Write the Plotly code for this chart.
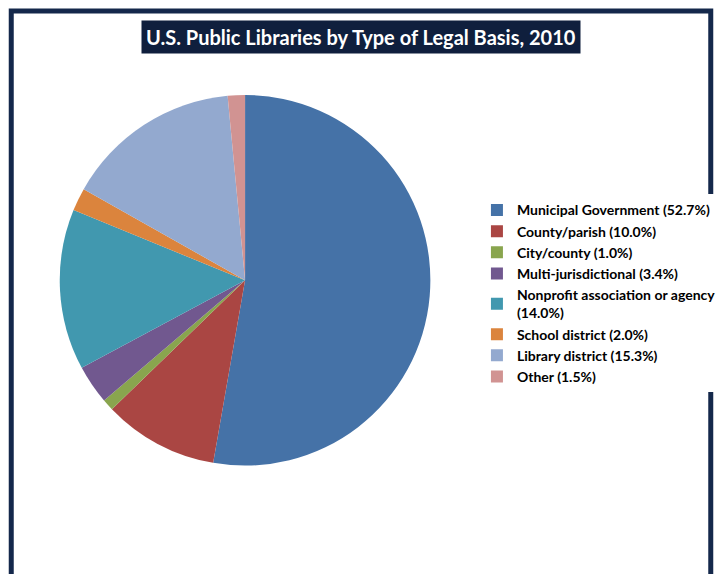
import plotly.graph_objects as go

# Données du graphique
labels = ["<b>Municipal Government (52.7%)</b>", "<b>County/parish (10.0%)</b>", "<b>City/county (1.0%)</b>",
          "<b>Multi-jurisdictional (3.4%)</b>", "<b>Nonprofit association or agency<br>(14.0%)</b>",
          "<b>School district (2.0%)</b>", "<b>Library district (15.3%)</b>", "<b>Other (1.5%)</b>"]
values = [52.7, 10.0, 1.0, 3.4, 14.0, 2.0, 15.3, 1.5]
colors = ["#4572A7", "#AA4643", "#89A54E", "#71588F", "#4198AF", "#DB843D", "#93A9CF", "#D19392"]

W, H = 725, 574
L, R, T, B = 12, 12, 40, 12
pw, ph = W - L - R, H - T - B

fig = go.Figure()
fig.add_trace(go.Pie(
    labels=labels, values=values, sort=False, direction="clockwise", rotation=0,
    marker=dict(colors=colors, line=dict(color="white", width=0)),
    textinfo="none", hoverinfo="label",
    domain=dict(x=[0.0, 0.66], y=[0.2, 0.91]),
))

# Titre sur fond sombre
fig.add_annotation(
    text="<b>U.S. Public Libraries by Type of Legal Basis, 2010</b>",
    x=0.5, y=1 + (T - 29) / ph, xref="paper", yref="paper", yanchor="middle", showarrow=False,
    font=dict(size=20, color="white", family="Lato"),
    bgcolor="#0F1F3D", borderpad=4,
)

# Cadre autour du graphique
fig.add_shape(type="rect", xref="paper", yref="paper",
              x0=-(L - 3) / pw, x1=1 + (R - 3) / pw,
              y0=-(B - 3) / ph, y1=1 + (T - 3) / ph,
              line=dict(color="#14284B", width=5))

fig.update_layout(
    width=W, height=H,
    margin=dict(l=L, r=R, t=T, b=B),
    paper_bgcolor="white",
    font=dict(family="Lato", size=13, color="black"),
    legend=dict(x=0.67, y=0.53, yanchor="middle",
                font=dict(size=14, family="Lato")),
    showlegend=True,
)

fig.write_html("out.html")
